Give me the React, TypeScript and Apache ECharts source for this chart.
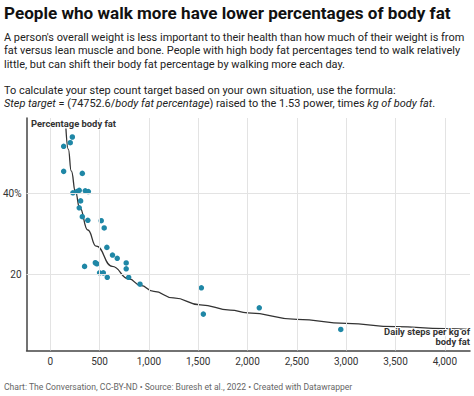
import React, { useEffect, useRef } from "react";
import * as echarts from "echarts";

// Daily steps per kg of body fat vs. percentage body fat
const participants: [number, number][] = [
  [224, 54.0], [203, 52.6], [136, 51.7], [136, 45.5], [325, 45.0],
  [230, 40.2], [270, 40.5], [294, 40.8], [355, 40.7], [386, 40.5],
  [308, 38.2], [294, 36.5], [325, 34.3], [381, 33.4], [517, 33.3],
  [547, 31.5], [574, 26.7], [631, 24.8], [679, 24.0], [770, 22.85],
  [770, 21.4], [348, 22.0], [457, 22.9], [473, 22.65], [500, 20.4],
  [538, 20.4], [578, 19.3], [795, 19.3], [910, 17.6], [1532, 16.7],
  [1552, 10.2], [2119, 11.75], [2945, 6.4],
];

// Fitted curve, points
const fitCurve: [number, number][] = [
  [159, 56.1], [183, 51.0], [213, 45.6], [257, 40.3], [297, 36.6],
  [381, 31.0], [466, 27.0], [628, 22.0], [797, 18.9], [915, 17.3],
  [1050, 15.8], [1250, 14.2], [1522, 12.5], [1825, 11.2], [2000, 10.5],
  [2500, 8.9], [3000, 7.9], [3500, 7.1], [4000, 6.6], [4254, 6.4],
];

const xTicks = [0, 500, 1000, 1500, 2000, 2500, 3000, 3500, 4000];
const yTicks = [20, 40];

const FONT = "Roboto";

export default function App() {
  const ref = useRef<HTMLDivElement>(null);
  useEffect(() => {
    const chart = echarts.init(ref.current!, null, { renderer: "svg" });
    const bodyLines = [
      "A person's overall weight is less important to their health than how much of their weight is from",
      "fat versus lean muscle and bone. People with high body fat percentages tend to walk relatively",
      "little, but can shift their body fat percentage by walking more each day.",
    ];
    const bodyY = [37.3, 50.8, 64.3];
    const bodyStyle = { fontFamily: FONT, fontSize: 10.95, fill: "#222" };
    const gridLines = [
      ...xTicks.map((v) => ({ xAxis: v })),
      ...yTicks.map((v) => ({ yAxis: v })),
    ];
    chart.setOption({
      animation: false,
      backgroundColor: "#fff",
      grid: { left: 26, right: 4, top: 118, bottom: 45.5, containLabel: false },
      xAxis: {
        type: "value",
        min: -240,
        max: 4255,
        axisLine: { show: true, onZero: false, lineStyle: { color: "#444", width: 1.5 } },
        axisTick: { show: false, customValues: xTicks },
        axisLabel: {
          customValues: xTicks,
          color: "#333",
          fontFamily: FONT,
          fontSize: 10,
          margin: 6,
          formatter: (v: number) => v.toLocaleString("en-US"),
        },
        splitLine: { show: false },
      },
      yAxis: {
        type: "value",
        min: 1.2,
        max: 58.7,
        axisLine: { show: true, onZero: false, lineStyle: { color: "#444", width: 1.5 } },
        axisTick: { show: false, customValues: yTicks },
        axisLabel: {
          customValues: yTicks,
          color: "#333",
          fontFamily: FONT,
          fontSize: 10,
          margin: 5,
          formatter: (v: number) => (v === 40 ? "40%" : String(v)),
        },
        splitLine: { show: false },
      },
      series: [
        {
          type: "line",
          data: [],
          z: 0,
          silent: true,
          markLine: {
            silent: true,
            symbol: "none",
            label: { show: false },
            lineStyle: { color: "#e3e3e3", width: 1, type: "solid" },
            emphasis: { disabled: true },
            data: gridLines,
          },
        },
        {
          type: "line",
          data: fitCurve,
          smooth: 0.5,
          smoothMonotone: "x",
          showSymbol: false,
          lineStyle: { color: "#333", width: 1.3 },
          z: 2,
        },
        {
          type: "scatter",
          data: participants,
          symbolSize: 5.5,
          itemStyle: { color: "#1f87a6", opacity: 1 },
          z: 3,
        },
      ],
      graphic: [
        {
          type: "text",
          x: 4,
          y: 12.6,
          style: {
            text: "People who walk more have lower percentages of body fat",
            fontFamily: FONT,
            fontWeight: "bold",
            fontSize: 17.1,
            fill: "#111",
            verticalAlign: "middle",
          },
        },
        ...bodyLines.map((t, i) => ({
          type: "text",
          x: 4,
          y: bodyY[i],
          style: { ...bodyStyle, text: t, verticalAlign: "middle" },
        })),
        {
          type: "text",
          x: 4,
          y: 90.3,
          style: {
            ...bodyStyle,
            text: "To calculate your step count target based on your own situation, use the formula:",
            verticalAlign: "middle",
          },
        },
        {
          type: "text",
          x: 4,
          y: 103.8,
          style: {
            ...bodyStyle,
            text: "{i|Step target} = (74752.6/{i|body fat percentage}) raised to the 1.53 power, times {i|kg of body fat}.",
            verticalAlign: "middle",
            rich: {
              i: { fontStyle: "italic", fontFamily: FONT, fontSize: 10.95, fill: "#222" },
            },
          },
        },
        {
          type: "text",
          x: 31,
          y: 123.5,
          z: 10,
          style: {
            text: "Percentage body fat",
            fontFamily: FONT,
            fontWeight: "bold",
            fontSize: 9.4,
            fill: "#333",
            verticalAlign: "middle",
            stroke: "#fff",
            lineWidth: 2,
          },
        },
        {
          type: "text",
          x: 470,
          y: 331,
          z: 10,
          style: {
            text: "Daily steps per kg of",
            fontFamily: FONT,
            fontWeight: "bold",
            fontSize: 9.4,
            fill: "#333",
            align: "right",
            verticalAlign: "middle",
            stroke: "#fff",
            lineWidth: 2,
          },
        },
        {
          type: "text",
          x: 470,
          y: 341.5,
          z: 10,
          style: {
            text: "body fat",
            fontFamily: FONT,
            fontWeight: "bold",
            fontSize: 9.4,
            fill: "#333",
            align: "right",
            verticalAlign: "middle",
            stroke: "#fff",
            lineWidth: 2,
          },
        },
        {
          type: "text",
          x: 4,
          y: 387.3,
          style: {
            text: "Chart: The Conversation, CC-BY-ND \u2022 Source: Buresh et al., 2022 \u2022 Created with Datawrapper",
            fontFamily: FONT,
            fontSize: 8.6,
            fill: "#666",
            verticalAlign: "middle",
          },
        },
      ],
    });
    return () => chart.dispose();
  }, []);
  return (
    <div
      ref={ref}
      style={{ position: "absolute", left: 0, top: 0, width: 474, height: 396 }}
    />
  );
}
